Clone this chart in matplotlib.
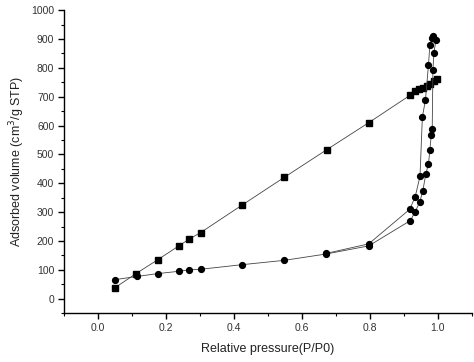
import matplotlib
matplotlib.use('Agg')
import matplotlib.pyplot as plt
from matplotlib.ticker import MultipleLocator

plt.rcParams['font.family'] = ['Liberation Sans', 'DejaVu Sans']

# Kurva kotak (naik hampir linear)
sq_p = [0.05, 0.112, 0.176, 0.238, 0.269, 0.302, 0.425, 0.549, 0.673, 0.797,
        0.920, 0.932, 0.945, 0.957, 0.968, 0.977, 0.989, 0.999]
sq_v = [38, 87, 135, 183, 207, 229, 325, 421, 516, 610,
        706, 719, 725, 731, 738, 745, 753, 763]

# Kurva lingkaran - cabang adsorpsi
ads_p = [0.05, 0.114, 0.176, 0.238, 0.269, 0.302, 0.425, 0.549, 0.672, 0.797,
         0.920, 0.934, 0.947, 0.956, 0.965, 0.973, 0.977, 0.981, 0.984,
         0.986, 0.989, 0.995]
ads_v = [66, 77, 87, 95, 100, 102, 118, 133, 155, 183,
         271, 302, 334, 372, 431, 468, 514, 566, 589,
         792, 853, 897]

# Kurva lingkaran - cabang desorpsi
des_p = [0.987, 0.984, 0.977, 0.973, 0.964, 0.955, 0.948, 0.934, 0.918, 0.797, 0.672]
des_v = [910, 905, 878, 811, 688, 630, 424, 354, 310, 190, 157]

fig = plt.figure(figsize=(4.74, 3.62), dpi=100)
ax = fig.add_axes([0.135, 0.135, 0.86, 0.837])

line_kw = dict(color='#444444', lw=0.6, markerfacecolor='black',
               markeredgecolor='black')
ax.plot(sq_p, sq_v, marker='s', ms=4.3, **line_kw)
ax.plot(ads_p, ads_v, marker='o', ms=4.2, **line_kw)
ax.plot(des_p, des_v, marker='o', ms=4.2, **line_kw)

ax.set_xlim(-0.1, 1.1)
ax.set_ylim(-50, 1000)
ax.xaxis.set_major_locator(MultipleLocator(0.2))
ax.xaxis.set_minor_locator(MultipleLocator(0.1))
ax.yaxis.set_major_locator(MultipleLocator(100))
ax.yaxis.set_minor_locator(MultipleLocator(50))
ax.set_xticks([0.0, 0.2, 0.4, 0.6, 0.8, 1.0])
ax.set_xticklabels(['0.0', '0.2', '0.4', '0.6', '0.8', '1.0'])

for side in ['top', 'right']:
    ax.spines[side].set_visible(False)
for side in ['left', 'bottom']:
    ax.spines[side].set_linewidth(1.0)

ax.tick_params(which='major', direction='out', length=4, width=1,
               labelsize=7.5, labelcolor='#333333', pad=3)
ax.tick_params(which='minor', direction='out', length=2.5, width=0.8)

ax.set_xlabel('Relative pressure(P/P0)', fontsize=9, color='#222222', labelpad=7)
ax.set_ylabel('Adsorbed volume (cm$^3$/g STP)', fontsize=9, color='#222222', labelpad=3)

fig.savefig('out.png', dpi=100)
